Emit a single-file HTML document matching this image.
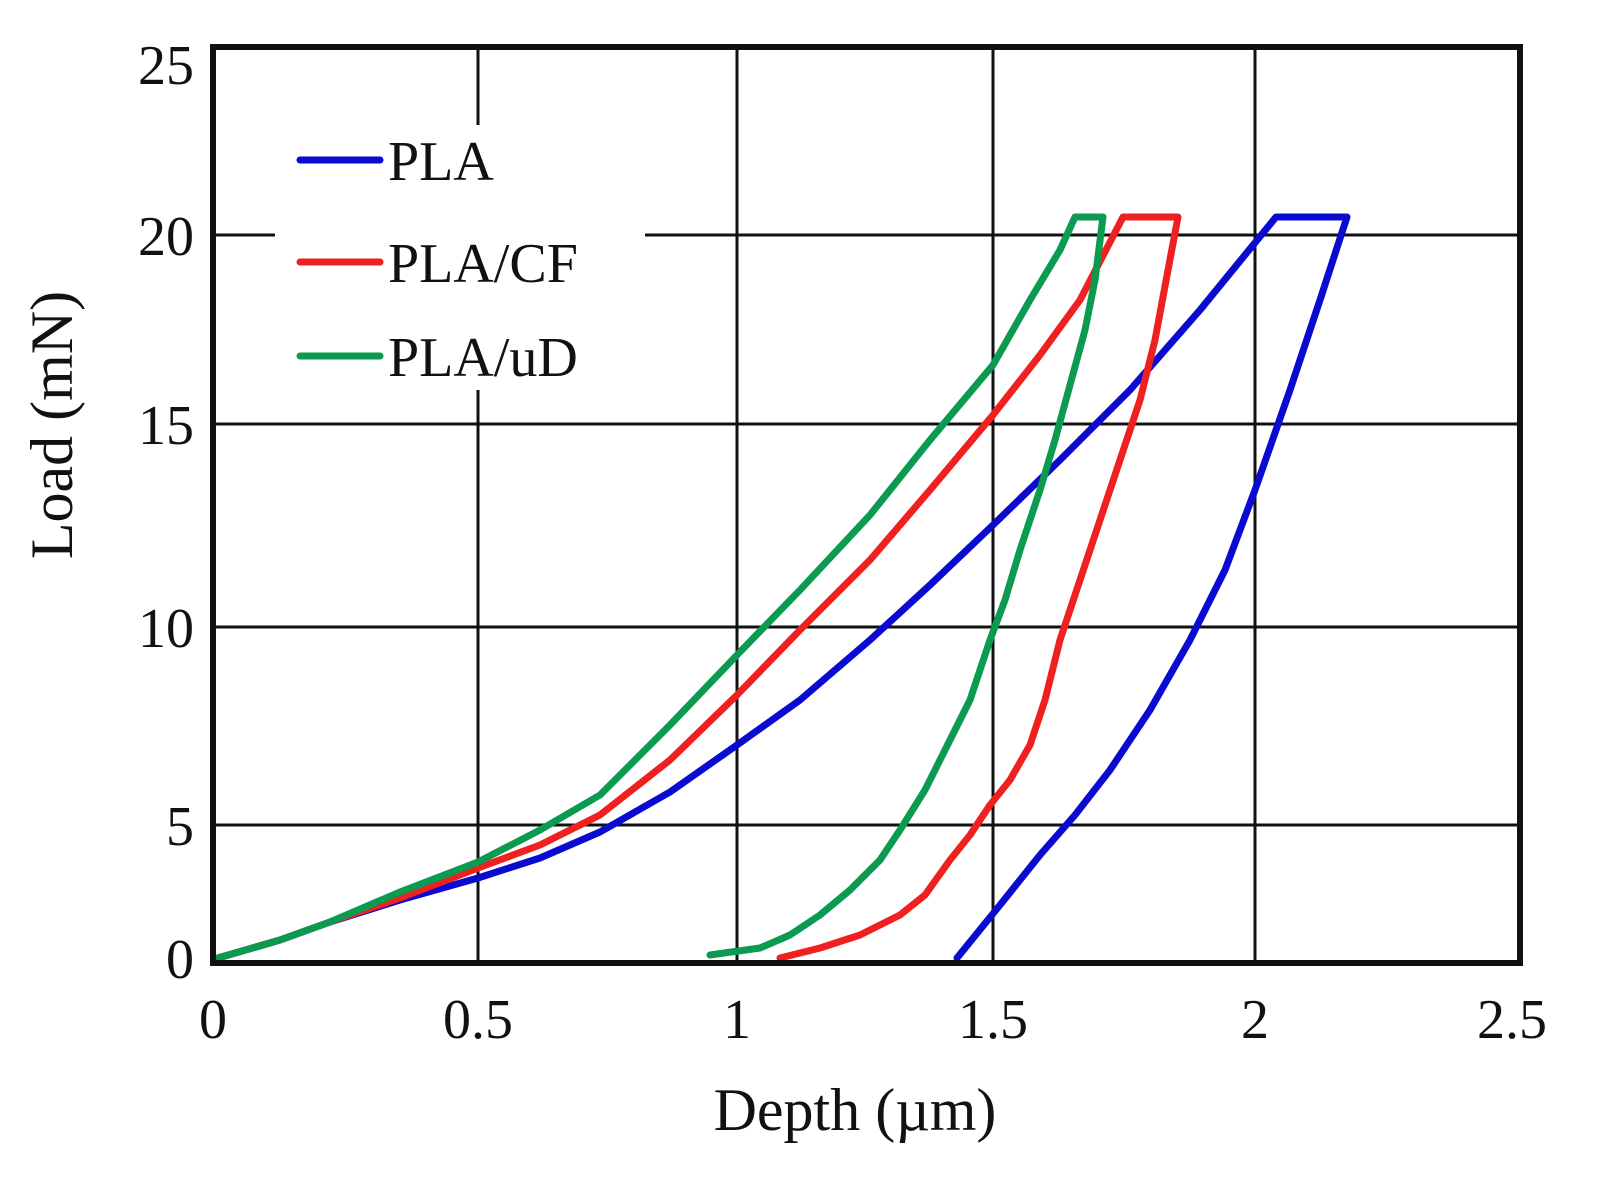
<!DOCTYPE html>
<html><head><style>body{margin:0;background:#fff}svg{display:block}text{font-family:"Liberation Serif",serif;fill:#111}</style></head>
<body>
<svg width="1609" height="1202" viewBox="0 0 1609 1202">
<g stroke="#111" stroke-width="3">
<line x1="478" y1="47" x2="478" y2="963"/><line x1="737" y1="47" x2="737" y2="963"/>
<line x1="993" y1="47" x2="993" y2="963"/><line x1="1255" y1="47" x2="1255" y2="963"/>
<line x1="213" y1="235" x2="1520" y2="235"/><line x1="213" y1="424" x2="1520" y2="424"/>
<line x1="213" y1="627" x2="1520" y2="627"/><line x1="213" y1="825" x2="1520" y2="825"/>
</g>
<rect x="275" y="125" width="370" height="265" fill="#fff"/>
<g fill="none" stroke-width="7" stroke-linejoin="round" stroke-linecap="round">
<polyline stroke="#0a0ad0" points="218,958 280,940 330,922 400,900 478,878 540,858 600,832 670,792 737,745 800,700 870,640 930,585 993,525 1060,460 1130,390 1200,310 1276,217 1347,217 1320,300 1290,390 1255,490 1225,570 1190,640 1150,710 1110,770 1075,815 1040,855 1000,905 957,958"/>
<polyline stroke="#f02020" points="218,958 280,940 330,922 400,898 478,868 540,845 600,815 670,760 737,695 800,630 870,560 930,490 993,415 1040,355 1080,300 1123,217 1178,217 1168,270 1155,340 1140,400 1120,460 1100,520 1080,580 1060,640 1045,700 1030,745 1010,780 990,805 970,835 950,860 925,895 900,915 860,935 820,948 780,958"/>
<polyline stroke="#0a9a50" points="218,958 280,940 330,922 400,892 478,862 540,830 600,795 670,725 737,655 800,590 870,515 930,440 993,365 1030,300 1060,250 1075,217 1103,217 1095,280 1085,330 1070,385 1055,440 1040,490 1020,550 1005,600 990,640 970,700 950,740 925,790 900,830 880,860 850,890 820,915 790,935 760,948 710,955"/>
<line stroke="#0a0ad0" x1="300" y1="160" x2="380" y2="160"/>
<line stroke="#f02020" x1="300" y1="262" x2="380" y2="262"/>
<line stroke="#0a9a50" x1="300" y1="356" x2="380" y2="356"/>
</g>
<rect x="213" y="47" width="1307" height="916" fill="none" stroke="#111" stroke-width="6"/>
<g font-size="56">
<text x="388" y="180">PLA</text><text x="388" y="282">PLA/CF</text><text x="388" y="376">PLA/uD</text>
</g>
<g font-size="56" text-anchor="end">
<text x="194" y="84">25</text><text x="194" y="255">20</text><text x="194" y="444">15</text>
<text x="194" y="647">10</text><text x="194" y="845">5</text><text x="194" y="978">0</text>
</g>
<g font-size="56" text-anchor="middle">
<text x="213" y="1038">0</text><text x="478" y="1038">0.5</text><text x="737" y="1038">1</text>
<text x="993" y="1038">1.5</text><text x="1255" y="1038">2</text><text x="1512" y="1038">2.5</text>
<text x="855" y="1130" font-size="60">Depth (µm)</text>
<text transform="translate(72,425) rotate(-90)" font-size="60">Load (mN)</text>
</g>
</svg>
</body></html>
